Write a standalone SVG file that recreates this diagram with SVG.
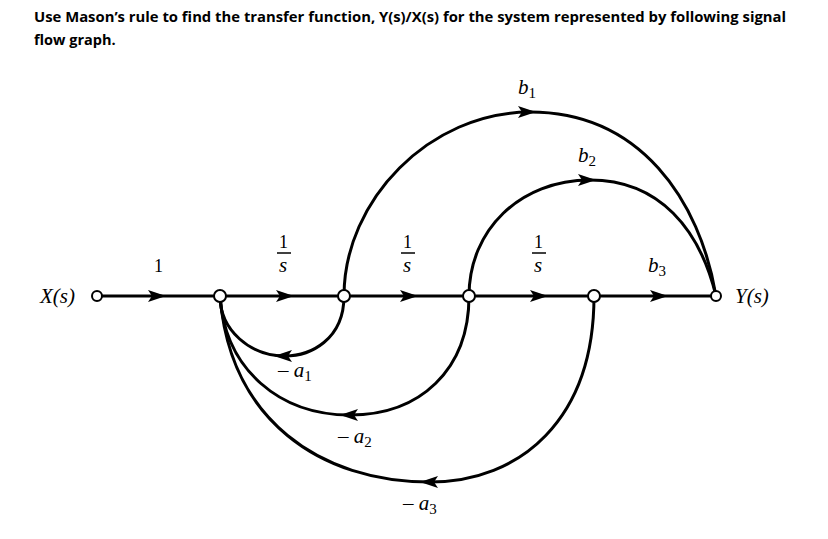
<svg xmlns="http://www.w3.org/2000/svg" width="828" height="539" viewBox="0 0 828 539">
<style>
.t{font-family:"Open Sans","Liberation Sans",Arial,sans-serif;font-weight:bold;font-size:14.5px}
.l{font-family:"Liberation Serif","Times New Roman",serif;font-style:italic;font-size:21px}
.n{font-family:"Liberation Serif","Times New Roman",serif;font-size:18px}
.e{fill:none;stroke:#000;stroke-width:3}
.nd{fill:#fff;stroke:#000;stroke-width:2}
</style>
<defs><path id="ah" d="M8,0 L-10,-6 L-6,0 L-10,6 Z" fill="#000"/></defs>
<rect width="828" height="539" fill="#fff"/>
<text class="t" x="34" y="22" textLength="752" lengthAdjust="spacingAndGlyphs">Use Mason’s rule to find the transfer function, Y(s)/X(s) for the system represented by following signal</text>
<text class="t" x="34" y="45">flow graph.</text>
<g id="connectors">
<path class="e" d="M100,296 H716"/>
<path class="e" d="M344,296 C344,200 430,112 530,112 C640,112 700,200 716,296"/>
<path class="e" d="M469,296 C469,230 520,180 590,180 C660,180 700,230 716,296"/>
<path class="e" d="M344,296 C344,340 310,356 285,356 C250,356 220,330 220,296"/>
<path class="e" d="M469,296 C469,370 420,415 350,415 C280,415 225,370 220,296"/>
<path class="e" d="M594,296 C594,420 520,482 430,482 C320,482 230,420 220,296"/>
<use href="#ah" transform="translate(158,296)"/>
<use href="#ah" transform="translate(286,296)"/>
<use href="#ah" transform="translate(410,296)"/>
<use href="#ah" transform="translate(540,296)"/>
<use href="#ah" transform="translate(660,296)"/>
<use href="#ah" transform="translate(528,112)"/>
<use href="#ah" transform="translate(588,180)"/>
<use href="#ah" transform="translate(282,356) rotate(180)"/>
<use href="#ah" transform="translate(348,415) rotate(180)"/>
<use href="#ah" transform="translate(428,482) rotate(180)"/>
</g>
<g id="nX"><circle class="nd" cx="97" cy="296" r="5"/><text class="l" x="40" y="303">X(s)</text></g>
<g id="n1"><circle class="nd" cx="220" cy="296" r="6"/></g>
<g id="n2"><circle class="nd" cx="344" cy="296" r="6"/></g>
<g id="n3"><circle class="nd" cx="469" cy="296" r="6"/></g>
<g id="n4"><circle class="nd" cx="594" cy="296" r="6"/></g>
<g id="nY"><circle class="nd" cx="716" cy="296" r="5"/><text class="l" x="735" y="303">Y(s)</text></g>
<g id="labels">
<text class="n" x="154" y="272">1</text>
<text class="n" x="279" y="248">1</text><line x1="277" y1="253" x2="291" y2="253" stroke="#000" stroke-width="1.5"/><text class="l" x="279" y="272" font-size="19">s</text>
<text class="n" x="403" y="248">1</text><line x1="401" y1="253" x2="415" y2="253" stroke="#000" stroke-width="1.5"/><text class="l" x="403" y="272" font-size="19">s</text>
<text class="n" x="534" y="248">1</text><line x1="532" y1="253" x2="546" y2="253" stroke="#000" stroke-width="1.5"/><text class="l" x="534" y="272" font-size="19">s</text>
<text class="l" x="518" y="94">b<tspan font-size="15" font-style="normal" dy="4">1</tspan></text>
<text class="l" x="578" y="162">b<tspan font-size="15" font-style="normal" dy="4">2</tspan></text>
<text class="l" x="648" y="272">b<tspan font-size="15" font-style="normal" dy="4">3</tspan></text>
<text class="l" x="278" y="377">– a<tspan font-size="15" font-style="normal" dy="4">1</tspan></text>
<text class="l" x="338" y="443">– a<tspan font-size="15" font-style="normal" dy="4">2</tspan></text>
<text class="l" x="403" y="510">– a<tspan font-size="15" font-style="normal" dy="4">3</tspan></text>
</g>
</svg>
